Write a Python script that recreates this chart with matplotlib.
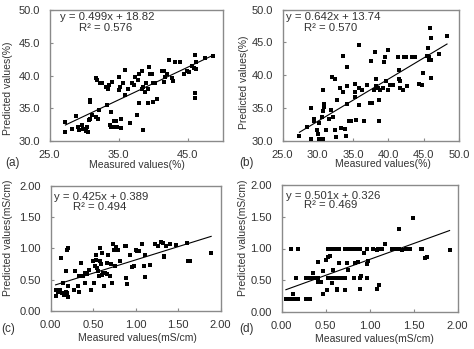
import matplotlib
matplotlib.use("Agg")
import matplotlib.pyplot as plt
import numpy as np

plt.rcParams['font.family'] = ['Liberation Sans', 'DejaVu Sans']

# ---- data ----
# (a) moisture-like values, %
a_meas = [27.3, 27.3, 28.2, 28.9, 29.1, 29.2, 29.7, 29.9, 30.3, 30.5, 30.4, 30.7, 30.9, 30.8, 30.8,
          31.2, 31.7, 31.8, 31.7, 32.0, 32.2, 32.3, 32.6, 33.1, 33.4, 33.3, 33.6, 33.9, 33.8, 33.9,
          34.1, 34.3, 34.4, 34.6, 34.8, 35.1, 35.1, 35.2, 35.3, 35.3, 35.6, 35.9, 35.9, 36.3, 36.6,
          36.9, 37.2, 37.4, 37.6, 37.8, 38.0, 38.0, 38.3, 38.3, 38.5, 38.5, 38.8, 39.0, 39.3, 39.3,
          39.4, 39.5, 39.8, 40.0, 40.0, 40.2, 40.5, 41.2, 41.5, 41.5, 41.7, 42.0, 42.2, 42.7, 42.8,
          43.2, 43.9, 44.4, 44.9, 45.1, 45.6, 45.9, 46.0, 46.1, 46.0, 46.0, 47.4, 48.6, 46.2]
a_pred = [32.9, 31.3, 31.8, 33.8, 32.2, 31.7, 32.4, 31.9, 31.5, 31.3, 32.2, 33.2, 33.4, 36.3, 35.9,
          34.0, 39.6, 39.3, 33.7, 33.3, 34.8, 38.9, 38.8, 38.3, 38.0, 35.5, 38.5, 34.4, 32.5, 32.2,
          39.0, 33.1, 32.2, 33.0, 32.2, 39.7, 37.8, 38.3, 32.0, 33.4, 38.8, 40.8, 37.0, 38.0, 32.8,
          38.8, 38.5, 39.7, 34.0, 39.3, 35.8, 40.3, 40.7, 38.0, 38.3, 31.7, 37.5, 38.8, 35.8, 37.9,
          41.3, 40.2, 40.2, 38.8, 35.9, 38.9, 36.4, 40.7, 40.7, 39.0, 39.8, 40.2, 42.3, 39.6, 39.2,
          42.0, 42.0, 40.3, 40.7, 40.5, 41.5, 41.2, 43.1, 41.0, 37.4, 36.5, 42.7, 43.0, 42.0]

# (b)
b_meas = [27.4, 28.4, 29.1, 29.1, 29.4, 29.5, 29.9, 30.0, 30.2, 30.5, 30.7, 30.1, 30.6, 30.7, 30.9,
          30.9, 30.8, 31.2, 31.6, 31.9, 32.0, 32.1, 32.4, 32.4, 32.6, 32.7, 33.1, 33.3, 33.5, 33.6,
          33.8, 34.0, 34.1, 34.2, 34.2, 34.4, 34.7, 35.2, 35.2, 35.3, 35.4, 35.8, 35.9, 35.9, 36.3,
          36.6, 37.0, 37.4, 37.5, 37.7, 38.0, 38.1, 38.2, 38.3, 38.5, 38.6, 38.7, 38.8, 39.2, 39.4,
          39.5, 39.6, 39.9, 40.0, 40.2, 40.6, 41.3, 41.5, 41.5, 41.6, 41.6, 42.1, 42.2, 42.5, 42.7,
          43.3, 43.8, 44.4, 44.8, 44.9, 45.4, 45.6, 45.7, 45.8, 46.0, 46.0, 46.1, 47.2, 48.3, 45.9]
b_pred = [30.8, 32.1, 35.0, 30.3, 33.1, 33.3, 31.6, 31.1, 30.3, 30.3, 30.3, 32.8, 33.6, 34.5, 35.7,
          35.2, 37.8, 31.7, 33.3, 34.7, 39.7, 33.7, 39.5, 31.7, 30.6, 36.2, 38.1, 32.0, 37.5, 42.9,
          31.8, 30.7, 38.3, 41.3, 35.7, 33.1, 33.1, 38.7, 37.5, 36.7, 33.2, 38.1, 44.6, 35.5, 37.7,
          33.0, 38.5, 35.8, 42.2, 35.8, 37.7, 43.5, 39.5, 38.3, 38.0, 33.0, 36.2, 37.8, 38.0, 42.0,
          42.7, 39.2, 37.8, 43.8, 38.5, 38.5, 42.8, 40.8, 39.5, 39.2, 38.0, 37.8, 42.8, 42.8, 38.3,
          42.8, 42.8, 38.7, 38.5, 40.3, 43.0, 44.1, 42.8, 42.3, 45.7, 39.6, 42.3, 43.3, 46.0, 47.2]

# (c) mS/cm
c_meas = [0.06, 0.07, 0.09, 0.11, 0.12, 0.13, 0.15, 0.16, 0.18, 0.18, 0.19, 0.2, 0.19, 0.21, 0.21,
          0.28, 0.29, 0.32, 0.33, 0.34, 0.36, 0.38, 0.4, 0.41, 0.43, 0.45, 0.48, 0.5, 0.51, 0.52,
          0.53, 0.54, 0.55, 0.56, 0.57, 0.58, 0.58, 0.59, 0.6, 0.61, 0.62, 0.63, 0.645, 0.66, 0.67,
          0.68, 0.7, 0.71, 0.72, 0.735, 0.75, 0.755, 0.77, 0.79, 0.815, 0.88, 0.89, 0.9, 0.89, 0.93,
          0.96, 0.98, 1.0, 1.02, 1.04, 1.08, 1.1, 1.11, 1.115, 1.17, 1.23, 1.26, 1.3, 1.32, 1.335,
          1.34, 1.36, 1.41, 1.48, 1.6, 1.62, 1.64, 1.89]
c_pred = [0.24, 0.34, 0.3, 0.33, 0.84, 0.28, 0.44, 0.25, 0.63, 0.3, 0.98, 1.0, 0.28, 0.22, 0.39,
          0.34, 0.63, 0.4, 0.56, 0.3, 0.77, 0.55, 0.6, 0.44, 0.59, 0.65, 0.33, 0.79, 0.44, 0.72,
          0.89, 0.81, 0.68, 0.63, 0.55, 1.0, 0.79, 0.75, 0.93, 0.57, 0.6, 0.4, 0.6, 0.77, 0.59,
          0.89, 0.56, 0.75, 0.44, 1.07, 0.98, 0.72, 1.02, 0.98, 0.8, 1.04, 0.52, 0.43, 1.03, 0.89,
          0.7, 0.72, 0.97, 0.96, 0.96, 1.07, 0.72, 0.54, 0.89, 0.73, 1.07, 1.04, 1.1, 1.09, 0.86,
          0.88, 1.04, 1.07, 1.05, 1.09, 0.8, 0.8, 0.93]

# (d) mS/cm
d_meas = [0.11, 0.19, 0.53, 0.57, 0.61, 0.65, 0.72, 0.76, 0.8, 0.85, 0.89, 0.97, 1.04, 1.08, 1.1,
          1.14, 1.25, 1.29, 1.33, 1.37, 1.41, 1.46, 1.58, 1.6,
          0.17, 0.28, 0.3, 0.32, 0.34, 0.36, 0.38, 0.4, 0.42, 0.53, 0.57, 0.59, 0.61, 0.63, 0.65,
          0.67, 0.69, 0.7, 0.72, 0.82, 0.89, 0.97,
          0.05, 0.07, 0.09, 0.11, 0.13, 0.15, 0.17, 0.19, 0.28, 0.32,
          0.13, 0.36, 0.41, 0.415, 0.445, 0.47, 0.47, 0.5, 0.52, 0.53, 0.55, 0.57, 0.59, 0.625,
          0.625, 0.65, 0.72, 0.74, 0.76, 0.83, 0.865, 0.89, 0.9, 0.94, 0.97, 0.98, 1.09, 1.11,
          1.18, 1.34, 1.63, 1.65, 1.91, 1.49]
d_pred = [1.0, 1.0, 1.0, 1.0, 1.0, 1.0, 1.0, 1.0, 1.0, 1.0, 1.0, 1.0, 1.0, 0.98, 1.0,
          1.0, 1.0, 1.0, 1.0, 0.98, 1.0, 1.0, 1.0, 1.0,
          0.53, 0.53, 0.53, 0.53, 0.53, 0.53, 0.53, 0.53, 0.53, 0.53, 0.53, 0.53, 0.53, 0.53, 0.53,
          0.53, 0.53, 0.53, 0.53, 0.53, 0.53, 0.53,
          0.2, 0.21, 0.2, 0.21, 0.2, 0.2, 0.21, 0.2, 0.21, 0.21,
          0.28, 0.61, 0.78, 0.48, 0.48, 0.64, 0.28, 0.82, 0.35, 0.86, 0.88, 0.45, 0.66, 0.37,
          0.34, 0.77, 0.35, 0.77, 0.66, 0.77, 0.78, 0.37, 0.56, 0.93, 0.76, 0.81, 0.37, 0.43,
          1.07, 1.31, 0.85, 0.86, 0.98, 1.48]

fits = [(0.499, 18.82, "0.576"), (0.642, 13.74, "0.570"),
        (0.425, 0.389, "0.494"), (0.501, 0.326, "0.469")]
letters = ["(a)", "(b)", "(c)", "(d)"]
xlabels = ["Measured values(%)", "Measured values(%)",
           "Measured values(mS/cm)", "Measured values(mS/cm)"]
ylabels = ["Predicted values(%)", "Predicted values(%)",
           "Predicted values(mS/cm)", "Predicted values(mS/cm)"]

W, H = 474, 349
fig = plt.figure(figsize=(W / 100, H / 100), dpi=100)

def px(x, y):
    # pixel coords (from top-left) -> figure fraction
    return x / W, 1 - y / H

def box(l, t, r, b):
    return [l / W, 1 - b / H, (r - l) / W, (b - t) / H]

boxes = [box(49.5, 10, 222.5, 141), box(282.5, 9.5, 459, 141),
         box(50.5, 186, 220.5, 310.7), box(281.5, 185, 457.5, 312)]

datasets = [(a_meas, a_pred), (b_meas, b_pred), (c_meas, c_pred), (d_meas, d_pred)]

# text positions in pixels
eq_pos = [(60, 17), (286, 17), (54, 197), (286, 196)]
r2_pos = [(79, 28), (304, 28), (73, 207), (304, 205)]
xl_pos = [(137, 165), (383, 164), (137, 338), (374, 339)]
yl_pos = [(8, 88), (244, 82), (8, 238), (243, 238)]
let_pos = [(13, 163), (246, 163), (8, 329), (246, 329)]

txt = '#333333'
fs = 7.5

for i in range(4):
    ax = fig.add_axes(boxes[i])
    xs, ys = datasets[i]
    ax.scatter(xs, ys, s=6, marker='s', color='black', linewidths=0, zorder=3)
    k, c, r2 = fits[i]
    xl = np.array([min(xs), max(xs)])
    ax.plot(xl, k * xl + c, color='black', linewidth=0.8)

    if i == 0:
        ax.set_xlim(25, 50)
        ax.set_xticks([25, 35, 45])
        ax.set_ylim(30, 50)
        ax.set_yticks(np.arange(30, 51, 5))
        fmt = '%.1f'
    elif i == 1:
        ax.set_xlim(25, 50)
        ax.set_xticks(np.arange(25, 51, 5))
        ax.set_ylim(30, 50)
        ax.set_yticks(np.arange(30, 51, 5))
        fmt = '%.1f'
    else:
        ax.set_xlim(0, 2)
        ax.set_xticks(np.arange(0, 2.01, 0.5))
        ax.set_ylim(0, 2)
        ax.set_yticks(np.arange(0, 2.01, 0.5))
        fmt = '%.2f'
    ax.set_xticklabels([fmt % v for v in ax.get_xticks()])
    ax.set_yticklabels([fmt % v for v in ax.get_yticks()])

    for s in ax.spines.values():
        s.set_color('#8a8a8a')
        s.set_linewidth(1.0)
    ax.tick_params(direction='in', length=2.5, width=0.8, color='#8a8a8a',
                   labelsize=8, labelcolor=txt)
    ax.tick_params(axis='y', pad=7)
    ax.tick_params(axis='x', pad=6.5)

    eq = "y = %.3fx + %s" % (k, ("%.2f" % c) if i < 2 else ("%.3f" % c))
    fig.text(*px(*eq_pos[i]), eq, fontsize=8.2, color=txt, va='center', ha='left')
    fig.text(*px(*r2_pos[i]), "R\u00b2 = " + r2, fontsize=8.2, color=txt, va='center', ha='left')
    fig.text(*px(*xl_pos[i]), xlabels[i], fontsize=fs, color=txt, va='center', ha='center')
    fig.text(*px(*yl_pos[i]), ylabels[i], fontsize=fs, color=txt, va='center', ha='center',
             rotation=90)
    fig.text(*px(*let_pos[i]), letters[i], fontsize=8.5, color=txt, va='center', ha='center')

fig.savefig("out.png", dpi=100)
